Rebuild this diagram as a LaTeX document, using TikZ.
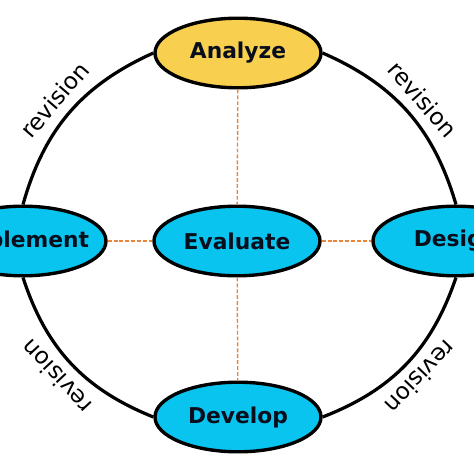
\documentclass[tikz,border=0pt]{standalone}
\usepackage{fontspec}
\setmainfont{DejaVu Sans}
\usetikzlibrary{shapes.geometric}

\definecolor{stageyellow}{RGB}{249,207,79}
\definecolor{stagecyan}{RGB}{10,196,240}
\definecolor{stageink}{RGB}{8,14,28}
\definecolor{tieorange}{RGB}{232,135,60}

\begin{document}
\begin{tikzpicture}[
        phase/.style={shape=ellipse, draw=black, line width=2.4pt, fill=stagecyan,
            minimum width=4.15cm, minimum height=1.74cm, inner sep=0pt,
            text=stageink, font=\bfseries\fontsize{15.5}{18}\selectfont},
        loopline/.style={draw=black, line width=2.3pt, bend left=25},
        tie/.style={draw=tieorange, line width=1pt, dash pattern=on 2.8pt off 1.4pt},
        revlabel/.style={midway, sloped, allow upside down, above=3pt,
            font=\fontsize{16.5}{19}\selectfont}
    ]
        \useasboundingbox (0, 0) rectangle (11.85, 11.85);

        \node[phase, fill=stageyellow] (analyze) at (5.95, 10.525) {\makebox[0pt]{Analyze}};
        \node[phase] (evaluate) at (5.925, 5.825) {\makebox[0pt]{Evaluate}};
        \node[phase] (develop) at (5.95, 1.425) {\makebox[0pt]{Develop}};
        \node[phase] (implement) at (0.575, 5.825) {\makebox[0pt]{Implement}};
        \node[phase] (design) at (11.4, 5.825) {\makebox[0pt]{Design}};

        % dashed ties to the centre
        \draw[tie] (analyze) -- (evaluate);
        \draw[tie] (evaluate) -- (develop);
        \draw[tie] (implement) -- (evaluate);
        \draw[tie] (evaluate) -- (design);

        % outer cycle
        \draw[loopline] (implement.north) to node[revlabel] {revision} (analyze.west);
        \draw[loopline] (analyze.east) to node[revlabel] {revision} (design.north);
        \draw[loopline] (design.south) to node[revlabel] {revision} (develop.east);
        \draw[loopline] (develop.west) to node[revlabel] {revision} (implement.south);
    \end{tikzpicture}
\end{document}
